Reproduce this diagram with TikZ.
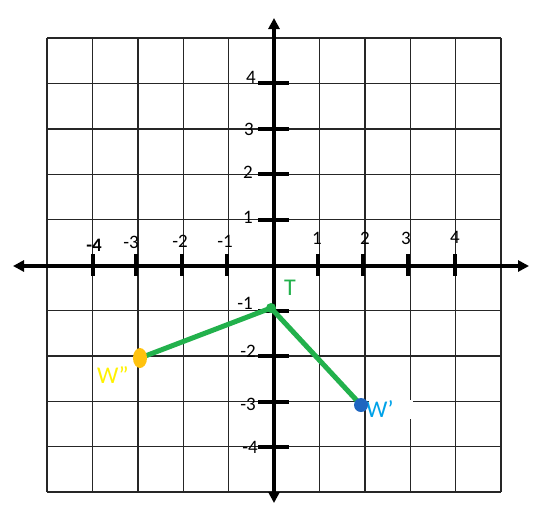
\documentclass[tikz,border=0pt]{standalone}
\usepackage{fontspec}
\setmainfont{Carlito}
\usetikzlibrary{arrows.meta,shapes.geometric}
\definecolor{pgreen}{HTML}{22B14C}
\definecolor{porange}{HTML}{FFC20E}
\definecolor{pyellow}{HTML}{FFF200}
\definecolor{pblue}{HTML}{1F66C0}
\definecolor{plblue}{HTML}{00A2E8}
\tikzset{
  gridline/.style={line width=1.4pt, draw=black!85},
  axisline/.style={line width=3.2pt, -{Triangle[length=11pt,width=11pt]}},
  tickmark/.style={line width=3.2pt},
  numlab/.style={font=\fontsize{19}{21}\selectfont, inner sep=0pt},
  letlab/.style={font=\fontsize{24}{26}\selectfont, inner sep=0pt},
  seg/.style={line width=5pt, draw=pgreen},
}
\begin{document}
\begin{tikzpicture}[x=1pt,y=-1pt]
\useasboundingbox (0,0) rectangle (541,520);
\fill[white] (0,0) rectangle (541,520);
% grid
\foreach \i in {0,...,10}{
  \draw[gridline] ({47+45.4*\i},38) -- ({47+45.4*\i},492);
  \draw[gridline] (47,{38+45.4*\i}) -- (501,{38+45.4*\i});
}
% axes
\coordinate (xl) at (13,266);
\coordinate (xr) at (529,266);
\coordinate (yt) at (274,18);
\coordinate (yb) at (274,503);
\coordinate (o) at (274,266);
\draw[axisline] (o) -- (xl);
\draw[axisline] (o) -- (xr);
\draw[axisline] (o) -- (yt);
\draw[axisline] (o) -- (yb);
% x ticks
\foreach \x in {93,136,182,227,318,363,408,455}{
  \draw[tickmark] (\x,254) -- (\x,276);
}
% y ticks
\foreach \y in {83,129,174,220,311,356,402,447}{
  \draw[tickmark] (258,\y) -- (289,\y);
}
% x labels
\node[numlab,font=\fontsize{19}{21}\selectfont\bfseries] (xm4) at (94,245) {-4};
\node[numlab] (xm3) at (131,242) {-3};
\node[numlab] (xm2) at (180,241) {-2};
\node[numlab] (xm1) at (225,241) {-1};
\node[numlab] (xp1) at (317,238) {1};
\node[numlab] (xp2) at (365,238) {2};
\node[numlab] (xp3) at (406,238) {3};
\node[numlab] (xp4) at (455,237) {4};
% y labels
\node[numlab] (yp4) at (251,77) {4};
\node[numlab] (yp3) at (249,129) {3};
\node[numlab] (yp2) at (248,172) {2};
\node[numlab] (yp1) at (248,217) {1};
\node[numlab] (ym1) at (245,303) {-1};
\node[numlab] (ym2) at (248,351) {-2};
\node[numlab] (ym3) at (248,404) {-3};
\node[numlab] (ym4) at (250,447) {-4};
% points
\coordinate (T) at (271,308);
\coordinate (W2) at (140,358);
\coordinate (W1) at (361,405);
\draw[seg] (T) -- (W2);
\draw[seg] (T) -- (W1);
% W' label box
\fill[white] (369,400) rectangle (413,419);
\node[letlab, text=plblue, anchor=west] (lW1) at (366,409) {W\symbol{39}};
\node[letlab, text=pyellow] (lW2) at (113,375) {W\symbol{34}};
\node[letlab, text=pgreen] (lT) at (290,288) {T};
% dots
\node[ellipse, fill=porange, minimum width=14pt, minimum height=20pt, inner sep=0pt] (dW2) at (W2) {};
\node[circle, fill=pgreen, minimum size=10pt, inner sep=0pt] (dT) at (T) {};
\node[circle, fill=pblue, minimum size=14pt, inner sep=0pt] (dW1) at (W1) {};
\end{tikzpicture}
\end{document}
